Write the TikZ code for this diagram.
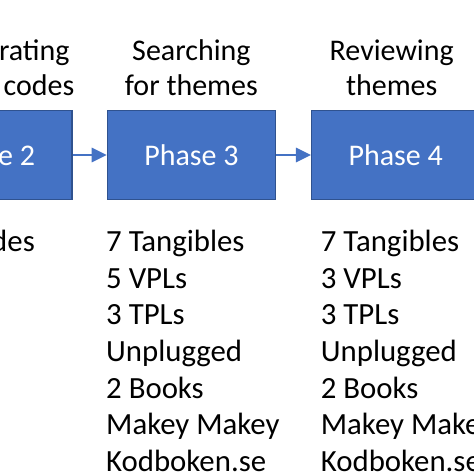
\documentclass[tikz,border=0pt]{standalone}
\usepackage{fontspec}
\setmainfont{Carlito}
\usetikzlibrary{positioning,arrows.meta}
\definecolor{phasefill}{HTML}{4472C4}
\definecolor{phaseline}{HTML}{2F528F}
\tikzset{
  phase/.style={draw=phaseline, fill=phasefill, line width=1.5pt,
    minimum width=168pt, minimum height=89pt, text=white,
    font=\fontsize{30}{35}\selectfont},
  heading/.style={align=center, inner sep=0pt, font=\fontsize{30}{35}\selectfont},
  items/.style={align=left, inner sep=0pt, anchor=base west,
    font=\fontsize{30.8}{36.6}\selectfont},
  flow/.style={phasefill, line width=1.5pt, -{Triangle[length=15pt,width=14.5pt]}},
}
\begin{document}
\begin{tikzpicture}[x=1pt,y=1pt]
  \useasboundingbox (0,0) rectangle (474,474);
  \clip (0,0) rectangle (474,474);
  % phases
  \node[phase] (p2) at (-12,319) {Phase 2};
  \node[phase] (p3) at (191.4,319) {Phase 3};
  \node[phase] (p4) at (395.7,319) {Phase 4};
  \draw[flow] (p2) -- (p3);
  \draw[flow] (p3) -- (p4);
  % headings
  \node[heading, above=14pt of p2, xshift=14pt] (t2) {Generating\\initial codes};
  \node[heading, above=14pt of p3] (t3) {Searching\\for themes};
  \node[heading, above=14pt of p4, xshift=-4pt] (t4) {Reviewing\\themes};
  % results (base = last line)
  \node[items, anchor=base east] (l2) at (35,222.3) {codes};
  \node[items] (l3) at (106,2.7) {7 Tangibles\\5 VPLs\\3 TPLs\\Unplugged\\2 Books\\Makey Makey\\Kodboken.se};
  \node[items] (l4) at (320.7,2.7) {7 Tangibles\\3 VPLs\\3 TPLs\\Unplugged\\2 Books\\Makey Makey\\Kodboken.se};
\end{tikzpicture}
\end{document}
